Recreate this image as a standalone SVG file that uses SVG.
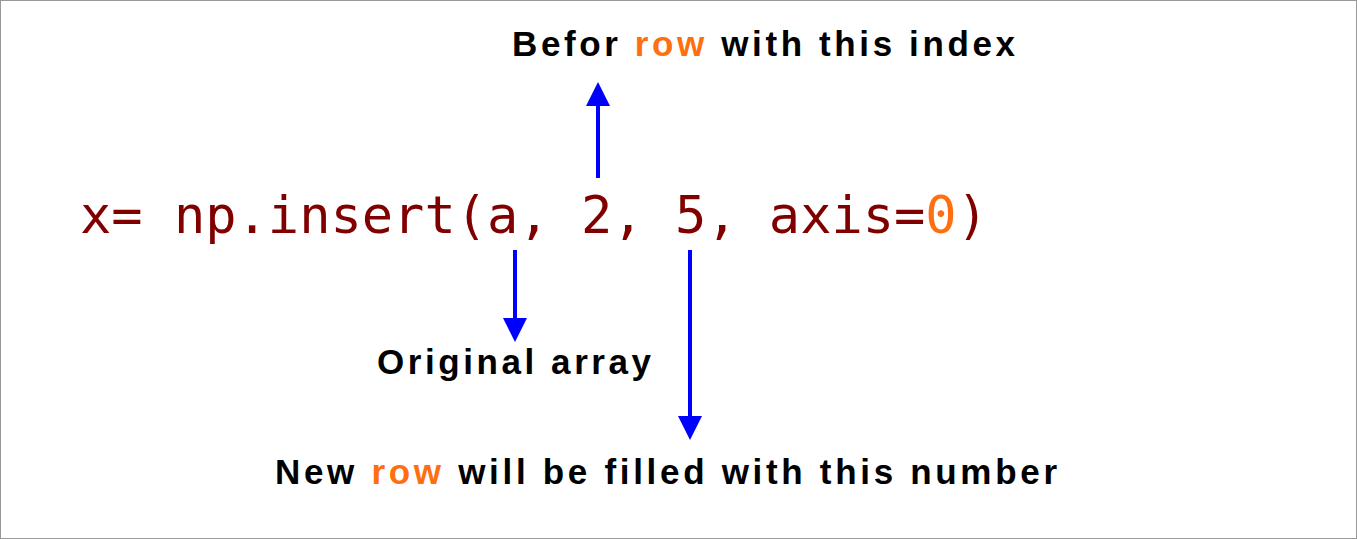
<svg xmlns="http://www.w3.org/2000/svg" width="1357" height="539" viewBox="0 0 1357 539">
<style>
.lbl{font-family:"Liberation Sans",Arial,sans-serif;font-weight:bold;font-size:35px;fill:#000}
.code{font-family:"DejaVu Sans Mono",monospace;font-size:52px;fill:#800000}
.or{fill:#ff6f0f}
.conn{stroke:#0000ff;stroke-width:4;fill:none}
</style>
<defs>
<marker id="ah" markerWidth="24" markerHeight="24" viewBox="0 0 24 24" refX="0" refY="12" orient="auto" markerUnits="userSpaceOnUse">
<path d="M0,0 L24,12 L0,24 Z" fill="#0000ff"/>
</marker>
</defs>
<rect x="0.5" y="0.5" width="1356" height="538" fill="#fff" stroke="#999"/>
<g id="code"><text class="code" x="80" y="233" textLength="908" lengthAdjust="spacingAndGlyphs">x= np.insert(a, 2, 5, axis=<tspan class="or">0</tspan>)</text></g>
<g id="label-index"><text class="lbl" x="512" y="56" textLength="503" lengthAdjust="spacing">Befor <tspan class="or">row</tspan> with this index</text></g>
<g id="label-array"><text class="lbl" x="377" y="374" textLength="274" lengthAdjust="spacing">Original array</text></g>
<g id="label-number"><text class="lbl" x="275" y="484" textLength="782" lengthAdjust="spacing">New <tspan class="or">row</tspan> will be filled with this number</text></g>
<g id="connectors">
<line class="conn" x1="598" y1="178" x2="598" y2="106" marker-end="url(#ah)"/>
<line class="conn" x1="515" y1="250" x2="515" y2="318" marker-end="url(#ah)"/>
<line class="conn" x1="690" y1="250" x2="690" y2="416" marker-end="url(#ah)"/>
</g>
</svg>
